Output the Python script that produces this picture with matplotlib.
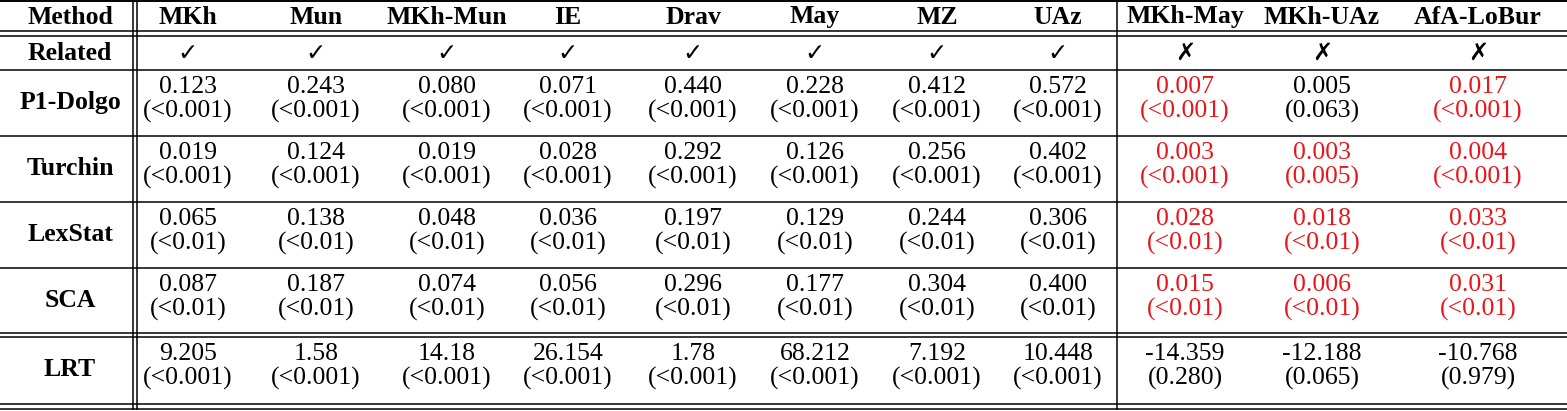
import matplotlib
matplotlib.use("Agg")
import matplotlib.pyplot as plt

columns = ["MKh", "Mun", "MKh-Mun", "IE", "Drav", "May", "MZ", "UAz", "MKh-May", "MKh-UAz", "AfA-LoBur"]
related = ["✓"] * 8 + ["✗"] * 3
methods = ["P1-Dolgo", "Turchin", "LexStat", "SCA", "LRT"]
values = [
    ["0.123", "0.243", "0.080", "0.071", "0.440", "0.228", "0.412", "0.572", "0.007", "0.005", "0.017"],
    ["0.019", "0.124", "0.019", "0.028", "0.292", "0.126", "0.256", "0.402", "0.003", "0.003", "0.004"],
    ["0.065", "0.138", "0.048", "0.036", "0.197", "0.129", "0.244", "0.306", "0.028", "0.018", "0.033"],
    ["0.087", "0.187", "0.074", "0.056", "0.296", "0.177", "0.304", "0.400", "0.015", "0.006", "0.031"],
    ["9.205", "1.58", "14.18", "26.154", "1.78", "68.212", "7.192", "10.448", "-14.359", "-12.188", "-10.768"],
]
pvalues = [
    ["(<0.001)"] * 9 + ["(0.063)", "(<0.001)"],
    ["(<0.001)"] * 9 + ["(0.005)", "(<0.001)"],
    ["(<0.01)"] * 11,
    ["(<0.01)"] * 11,
    ["(<0.001)"] * 8 + ["(0.280)", "(0.065)", "(0.979)"],
]
red = [
    [False] * 8 + [True, False, True],
    [False] * 8 + [True] * 3,
    [False] * 8 + [True] * 3,
    [False] * 8 + [True] * 3,
    [False] * 11,
]

W, H = 1567, 411
fig = plt.figure(figsize=(W / 100, H / 100), dpi=100)
ax = fig.add_axes([0, 0, 1, 1])
ax.set_xlim(0, W)
ax.set_ylim(H, 0)
ax.axis("off")

FONT = "Liberation Serif"
FS = 18.5
col_x = [188, 316, 447, 568, 693, 815, 937, 1058, 1185, 1322, 1478]
method_x = 70

def hline(y, lw=1.1):
    ax.plot([0, W], [y, y], color="black", lw=lw, solid_capstyle="butt")

hline(1.5, 1.4)
hline(31.5); hline(36)
hline(70)
for y in [136, 202, 268]:
    hline(y)
hline(332.5); hline(337)
hline(404); hline(408.5)
for x in [133, 137, 1117]:
    ax.plot([x, x], [1.5, 408.5], color="black", lw=1.1)

ax.text(method_x, 17, "Method", ha="center", va="center", fontsize=FS, fontweight="bold", family=FONT)
for x, c in zip(col_x, columns):
    ax.text(x, 17, c, ha="center", va="center", fontsize=FS, fontweight="bold", family=FONT)
ax.text(method_x, 53, "Related", ha="center", va="center", fontsize=FS, fontweight="bold", family=FONT)
for x, r in zip(col_x, related):
    ax.text(x, 53, r, ha="center", va="center", fontsize=FS - 1, family=["DejaVu Sans"])

row_tops = [70, 136, 202, 268, 337]
for i, m in enumerate(methods):
    top = row_tops[i]
    ax.text(method_x, top + 32, m, ha="center", va="center", fontsize=FS, fontweight="bold", family=FONT)
    for j, x in enumerate(col_x):
        color = "#e8161b" if red[i][j] else "black"
        ax.text(x, top + 17, values[i][j], ha="center", va="center", fontsize=FS, family=FONT, color=color)
        ax.text(x, top + 41, pvalues[i][j], ha="center", va="center", fontsize=FS, family=FONT, color=color)

fig.savefig("out.png", dpi=100)
